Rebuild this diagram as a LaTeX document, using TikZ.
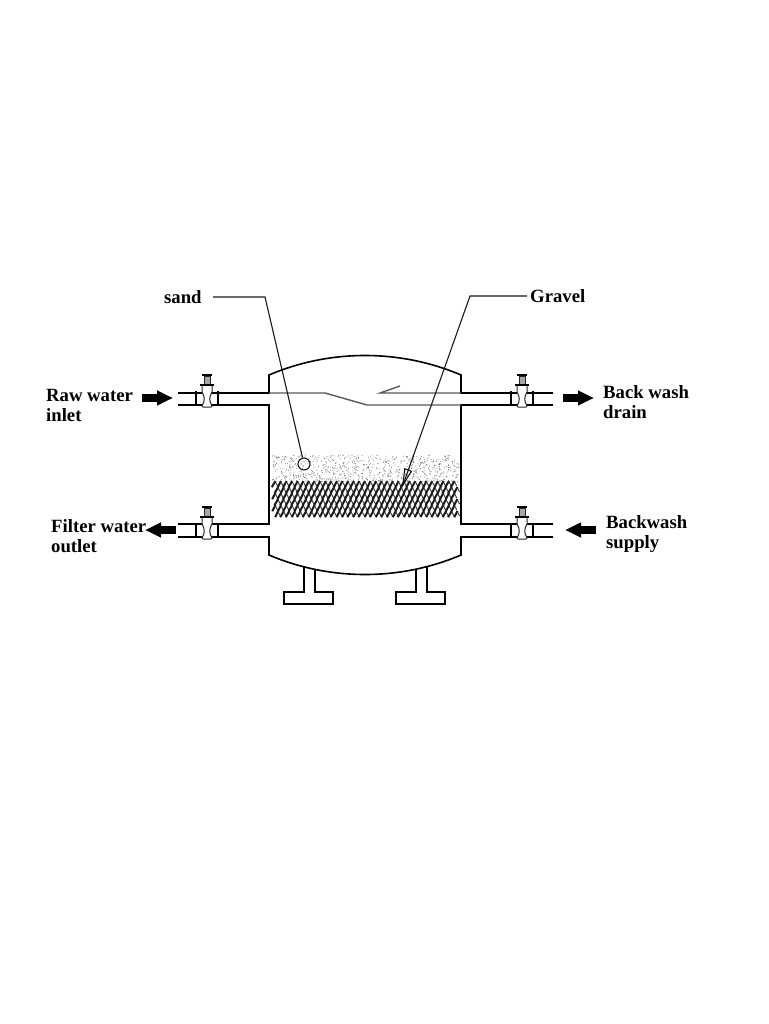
\documentclass[tikz,border=0pt]{standalone}
\usepackage{fontspec}
\setmainfont{Liberation Serif}
\usetikzlibrary{arrows.meta}
\newcommand{\lw}{1.6pt}
\newcommand{\valvebody}{
	\draw[flange] (-11,-7) -- (-11,7);
	\draw[flange] (11,-7) -- (11,7);
	\draw[thinline,fill=white] (-5,-13) -- (-5,-6) .. controls (-2,-1) and (-2,3) .. (-5,8) -- (-4,9) -- (4,9) -- (5,8) .. controls (2,3) and (2,-1) .. (5,-6) -- (5,-13) -- cycle;
	\draw[thinline,fill=black!35] (-3,-13) rectangle (3,-22);
	\draw[pipeline] (-7,-13) -- (7,-13);
	\draw[flange] (-5,-23) -- (5,-23);
}
\tikzset{
	pipeline/.style = {line width=\lw, black},
	flange/.style = {line width=1.8pt, black},
	thinline/.style = {line width=1pt, black!85},
	innerline/.style = {line width=1.4pt, black!65},
	leader/.style = {line width=1.1pt, black!90},
	flowarrow/.style = {line width=7.5pt, -{Triangle[length=16pt,width=14pt]}},
	label/.style = {font=\bfseries\fontsize{18.7}{20}\selectfont, inner sep=0pt, anchor=base west}
}
\begin{document}
\begin{tikzpicture}[x=1pt,y=-1pt]
	\useasboundingbox[fill=white] (0,0) rectangle (768,1024);
	%\draw[help lines,step=50] (0,0) grid (768,1024);

	% labels
	\node[label] (sand) at (164,303) {sand};
	\node[label] (gravel) at (530,302) {Gravel};
	\node[label] (raw) at (46,401) {Raw water};
	\node[label] (inlet) at (46,421) {inlet};
	\node[label] (drain1) at (603,398) {Back wash};
	\node[label] (drain2) at (603,418) {drain};
	\node[label] (filter) at (51,532) {Filter water};
	\node[label] (outlet) at (51,552) {outlet};
	\node[label] (supply1) at (606,528) {Backwash};
	\node[label] (supply2) at (606,548) {supply};

	% vessel
	\draw[pipeline] (178,393) -- (269,393) -- (269,375) .. controls (330,349) and (400,349) .. (461,375) -- (461,393) -- (553,393);
	\draw[pipeline] (178,405) -- (269,405) -- (269,524) -- (178,524);
	\draw[pipeline] (178,537) -- (269,537) -- (269,555) .. controls (330,581) and (400,581) .. (461,555) -- (461,537) -- (553,537);
	\draw[pipeline] (553,405) -- (461,405) -- (461,524) -- (553,524);

	% inner pipe
	\draw[innerline] (269,393) -- (325,393) -- (367,405) -- (461,405);
	\draw[innerline] (461,393) -- (380,393) -- (400,386);

	% feet
	\foreach \fx/\ya/\yb in {284/567/570,396/570/567}{
		\draw[pipeline] (\fx+20,\ya) -- (\fx+20,592) -- (\fx,592) -- (\fx,604) -- (\fx+49,604) -- (\fx+49,592) -- (\fx+31,592) -- (\fx+31,\yb);
	}

	% valves
	\foreach \vx/\vy in {207/398,522/398,207/530,522/530}{
		\begin{scope}[shift={(\vx,\vy)}]
			\valvebody
		\end{scope}
	}

	% sand
	\pgfmathsetseed{4711}
	\foreach \i in {1,...,750}{
		\pgfmathsetmacro{\px}{272+187*rnd}
		\pgfmathsetmacro{\py}{455+27*rnd}
		\fill[black!55] (\px,\py) circle (0.5);
	}

	% gravel
	\foreach \row in {0,...,5}{
		\foreach \col in {0,...,32}{
			\pgfmathsetmacro{\gx}{272+\col*5.6+mod(\row,2)*2.8}
			\pgfmathsetmacro{\gy}{481+\row*6}
			\draw[line width=2pt,black!90] (\gx+rand*0.4,\gy+6.2) -- (\gx+3.4,\gy);
			\draw[line width=1pt,black!75] (\gx+3.4,\gy+1) -- (\gx+5.6,\gy+5);
		}
	}

	% leaders
	\node[draw,circle,leader,minimum size=12pt,inner sep=0pt] (grain) at (304,464) {};
	\coordinate (sandstart) at (213,297);
	\coordinate (sandbend) at (265,297);
	\draw[leader] (sandstart) -- (sandbend) -- (grain);
	\coordinate (gravelstart) at (527,296);
	\coordinate (gravelbend) at (470,296);
	\coordinate (gravelend) at (403,485);
	\coordinate (headr) at (411.3,471.2);
	\coordinate (headl) at (404.7,468.8);
	\draw[leader] (gravelstart) -- (gravelbend) -- (gravelend);
	\draw[leader] (headl) -- (gravelend) -- (headr) -- cycle;

	% flow arrows
	\coordinate (rawa) at (142,398);
	\coordinate (rawb) at (173,398);
	\coordinate (draina) at (563,398);
	\coordinate (drainb) at (594,398);
	\coordinate (filtera) at (176,530);
	\coordinate (filterb) at (145,530);
	\coordinate (supplya) at (596,530);
	\coordinate (supplyb) at (565,530);
	\draw[flowarrow] (rawa) -- (rawb);
	\draw[flowarrow] (draina) -- (drainb);
	\draw[flowarrow] (filtera) -- (filterb);
	\draw[flowarrow] (supplya) -- (supplyb);
\end{tikzpicture}
\end{document}
